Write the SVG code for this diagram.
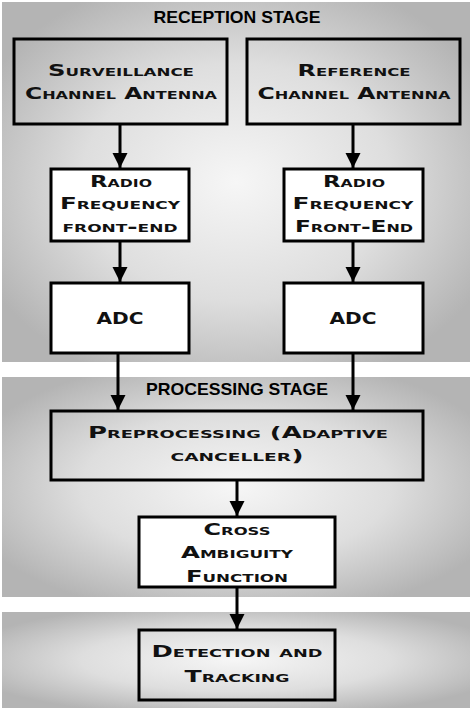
<svg xmlns="http://www.w3.org/2000/svg" width="474" height="708" viewBox="0 0 474 708">
<defs>
<radialGradient id="bg" cx="0.5" cy="0.5" r="0.6" fx="0.5" fy="0.5">
<stop offset="0" stop-color="#f6f6f6"/>
<stop offset="0.55" stop-color="#dedede"/>
<stop offset="1" stop-color="#b4b4b4"/>
</radialGradient>
<marker id="ah" markerUnits="userSpaceOnUse" markerWidth="16" markerHeight="16" viewBox="0 0 16 16" refX="15" refY="8" orient="auto">
<path d="M0,0.5 L15,8 L0,15.5 Z" fill="#000"/>
</marker>
<style>
.panel{fill:url(#bg)}
.box{stroke:#000;stroke-width:3}
.g{fill:none}
.w{fill:#fff}
.t{font-family:"DejaVu Sans","Liberation Sans",sans-serif;font-size:16px;font-weight:bold;font-variant:small-caps;fill:#111;text-anchor:middle}
.h{font-family:"Liberation Sans",Arial,sans-serif;font-size:17px;font-weight:bold;fill:#000;text-anchor:middle}
.c{stroke:#000;stroke-width:3;fill:none;marker-end:url(#ah)}
</style>
</defs>
<rect width="474" height="708" fill="#fff"/>
<rect class="panel" x="2" y="2" width="468" height="360"/>
<rect class="panel" x="2" y="377" width="468" height="220"/>
<rect class="panel" x="2" y="612" width="468" height="96"/>
<text class="h" x="237" y="23" textLength="167" lengthAdjust="spacingAndGlyphs">RECEPTION STAGE</text>
<text class="h" x="237" y="395" textLength="182" lengthAdjust="spacingAndGlyphs">PROCESSING STAGE</text>
<g id="surv">
<rect class="box g" x="14" y="39" width="213" height="85"/>
<text class="t" x="121" y="76" textLength="146" lengthAdjust="spacingAndGlyphs">Surveillance</text>
<text class="t" x="121" y="99" textLength="192" lengthAdjust="spacingAndGlyphs">Channel Antenna</text>
</g>
<g id="ref">
<rect class="box g" x="247" y="39" width="213" height="85"/>
<text class="t" x="354" y="76" textLength="113" lengthAdjust="spacingAndGlyphs">Reference</text>
<text class="t" x="354" y="99" textLength="193" lengthAdjust="spacingAndGlyphs">Channel Antenna</text>
</g>
<g id="rf1">
<rect class="box w" x="51" y="169" width="138" height="72"/>
<text class="t" x="121" y="187" textLength="62" lengthAdjust="spacingAndGlyphs">Radio</text>
<text class="t" x="120" y="209" textLength="120" lengthAdjust="spacingAndGlyphs">Frequency</text>
<text class="t" x="120" y="232" textLength="115" lengthAdjust="spacingAndGlyphs">front-end</text>
</g>
<g id="rf2">
<rect class="box w" x="284" y="169" width="139" height="72"/>
<text class="t" x="354" y="187" textLength="62" lengthAdjust="spacingAndGlyphs">Radio</text>
<text class="t" x="353" y="209" textLength="121" lengthAdjust="spacingAndGlyphs">Frequency</text>
<text class="t" x="354" y="232" textLength="118" lengthAdjust="spacingAndGlyphs">Front-End</text>
</g>
<g id="adc1">
<rect class="box w" x="51" y="283" width="138" height="70"/>
<text class="t" x="120" y="324" textLength="47" lengthAdjust="spacingAndGlyphs">ADC</text>
</g>
<g id="adc2">
<rect class="box w" x="284" y="283" width="139" height="70"/>
<text class="t" x="353" y="324" textLength="47" lengthAdjust="spacingAndGlyphs">ADC</text>
</g>
<g id="pre">
<rect class="box g" x="51" y="411" width="372" height="69"/>
<text class="t" x="238" y="438" textLength="300" lengthAdjust="spacingAndGlyphs">Preprocessing (Adaptive</text>
<text class="t" x="237" y="461" textLength="133" lengthAdjust="spacingAndGlyphs">canceller)</text>
</g>
<g id="caf">
<rect class="box w" x="139" y="517" width="196" height="70"/>
<text class="t" x="237" y="535" textLength="67" lengthAdjust="spacingAndGlyphs">Cross</text>
<text class="t" x="237" y="558" textLength="112" lengthAdjust="spacingAndGlyphs">Ambiguity</text>
<text class="t" x="237" y="582" textLength="102" lengthAdjust="spacingAndGlyphs">Function</text>
</g>
<g id="det">
<rect class="box g" x="139" y="630" width="196" height="70"/>
<text class="t" x="237" y="657" textLength="171" lengthAdjust="spacingAndGlyphs">Detection and</text>
<text class="t" x="237" y="682" textLength="105" lengthAdjust="spacingAndGlyphs">Tracking</text>
</g>
<g id="connectors">
<line class="c" x1="120" y1="125" x2="120" y2="168"/>
<line class="c" x1="353" y1="125" x2="353" y2="168"/>
<line class="c" x1="120" y1="242" x2="120" y2="282"/>
<line class="c" x1="353" y1="242" x2="353" y2="282"/>
<line class="c" x1="118" y1="354" x2="118" y2="410"/>
<line class="c" x1="353" y1="354" x2="353" y2="410"/>
<line class="c" x1="237" y1="481" x2="237" y2="516"/>
<line class="c" x1="237" y1="588" x2="237" y2="629"/>
</g>
</svg>
